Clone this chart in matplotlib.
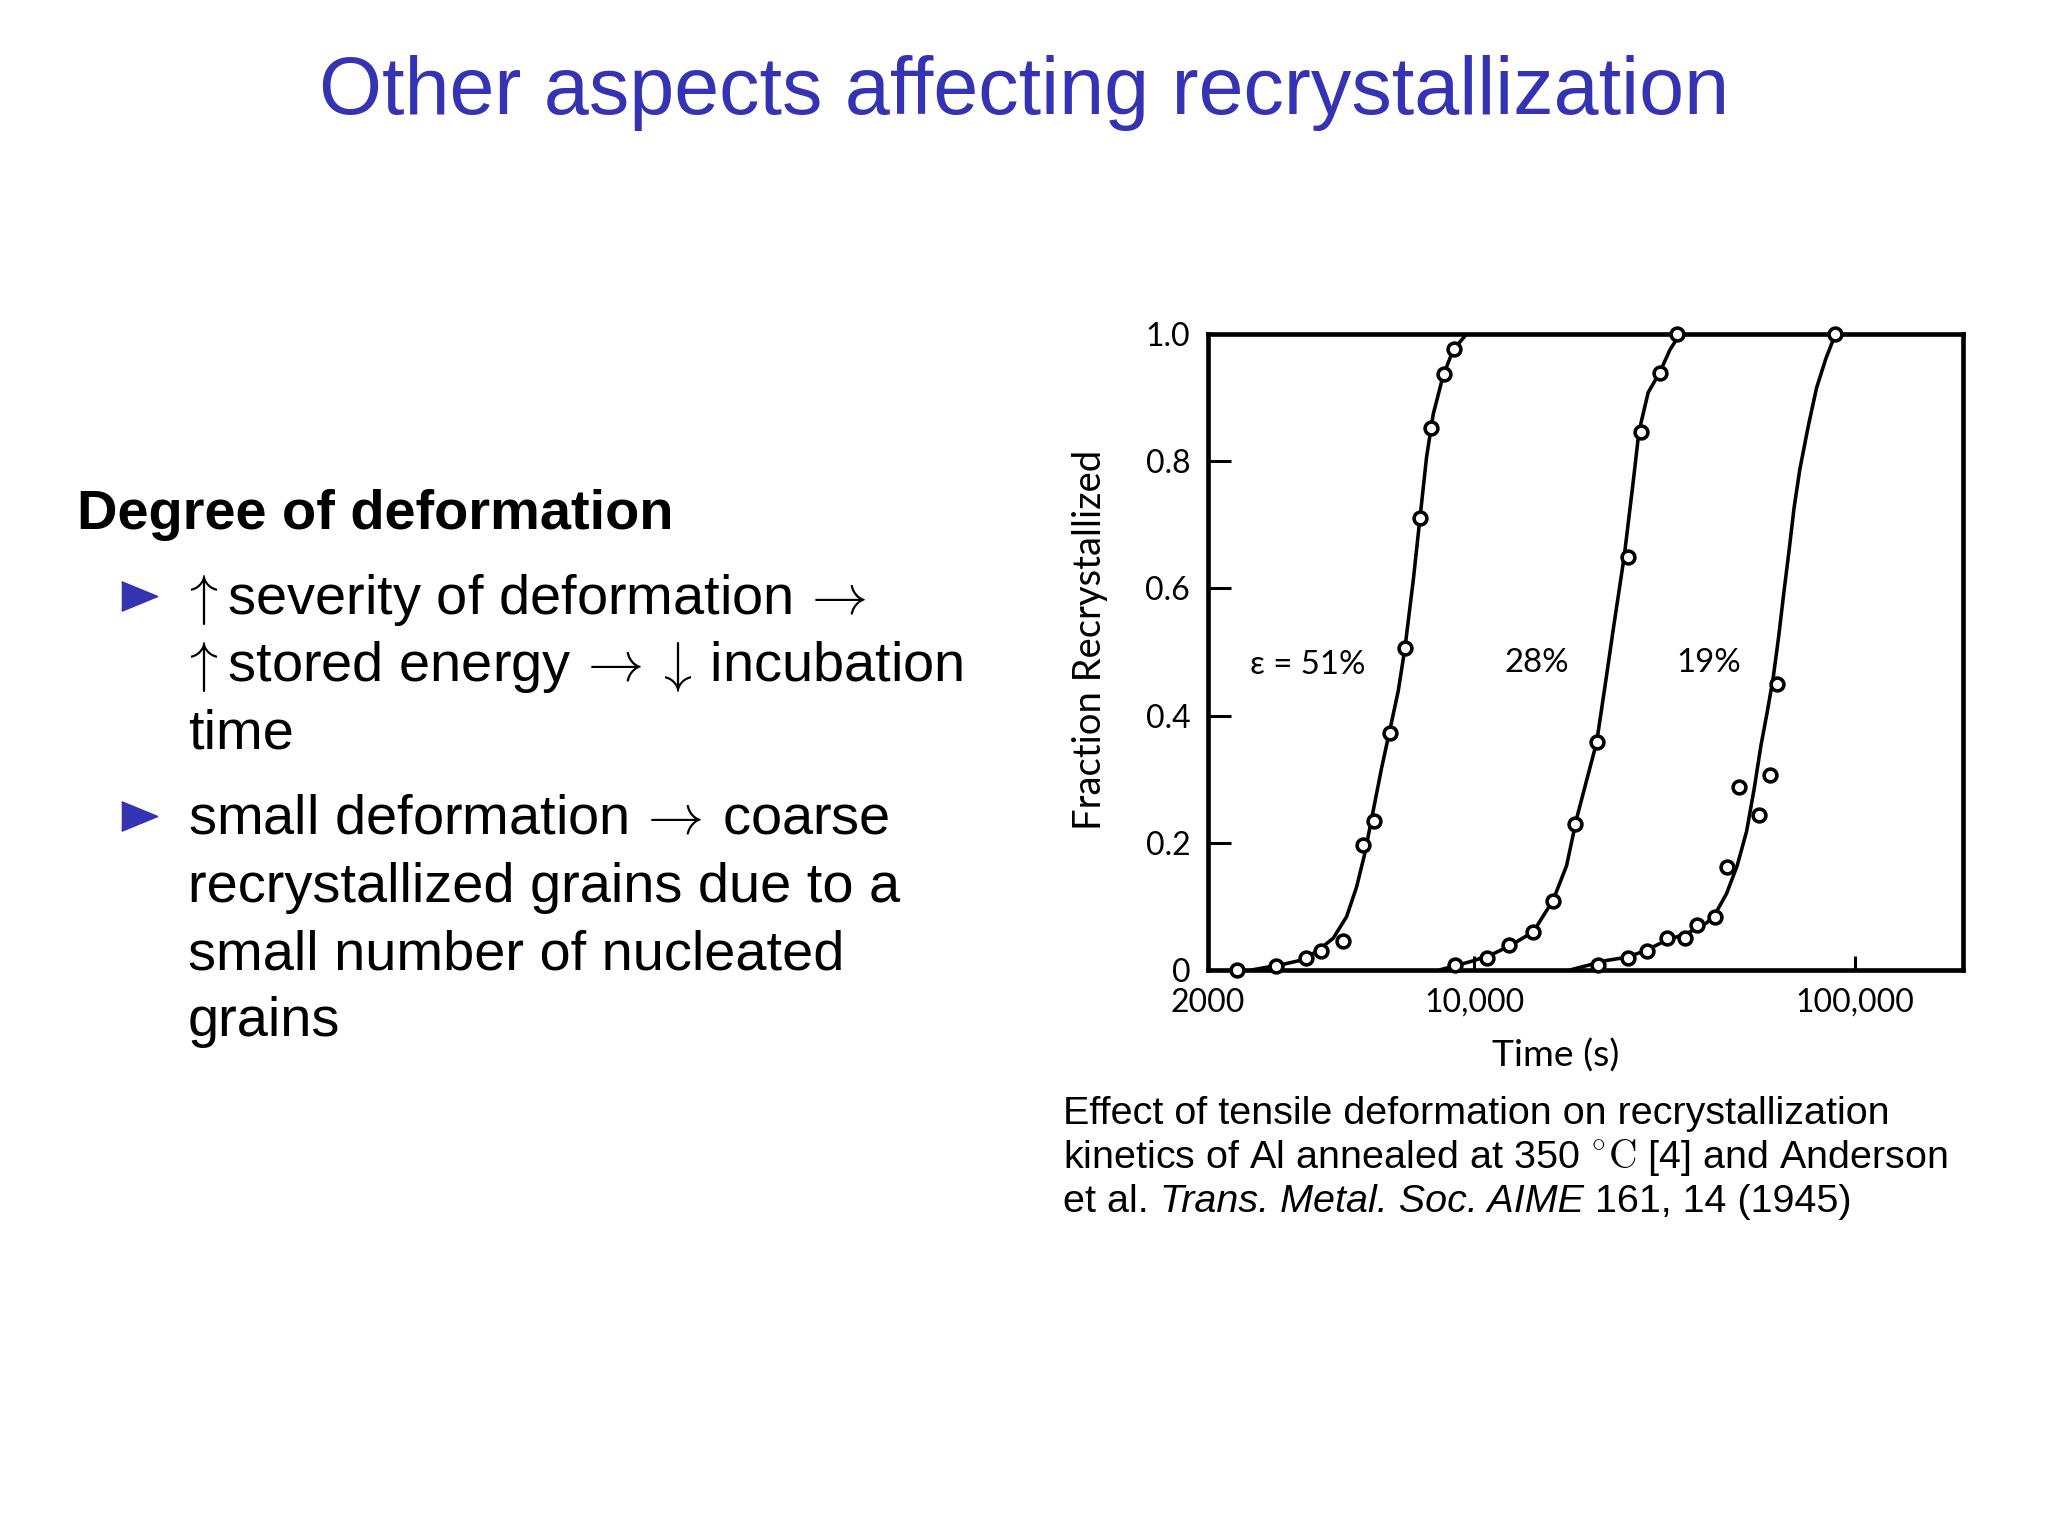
import matplotlib
matplotlib.use("Agg")
import matplotlib.pyplot as plt
from matplotlib.lines import Line2D
from matplotlib.ticker import NullLocator

plt.rcParams["mathtext.fontset"] = "cm"

# ---- slide text ----
TITLE = "Other aspects affecting recrystallization"
HEADING = "Degree of deformation"
BULLET_1 = [r"$\!\uparrow$severity of deformation$\,\rightarrow$",
            r"$\!\uparrow$stored energy$\,\rightarrow\downarrow\,$incubation",
            "time"]
BULLET_2 = [r"small deformation$\,\rightarrow\,$coarse",
            "recrystallized grains due to a",
            "small number of nucleated",
            "grains"]
CAPTION_1 = "Effect of tensile deformation on recrystallization"
CAPTION_2 = r"kinetics of Al annealed at 350 $^{\circ}\mathrm{C}$ [4] and Anderson"
CAPTION_3 = [("et al.", "normal"), ("Trans. Metal. Soc. AIME", "italic"),
             ("161, 14 (1945)", "normal")]

# ---- chart data (time in s, fraction recrystallized) ----
t51_pts = [2378, 3016, 3615, 3952, 4532, 5115, 5465, 6008, 6577, 7202, 7684, 8328, 8846]
f51_pts = [0.0, 0.007, 0.019, 0.030, 0.045, 0.196, 0.234, 0.372, 0.506, 0.710, 0.852, 0.937, 0.976]
t51_fit = [2600, 3154, 3488, 3858, 4265, 4624, 4913, 5165, 5432, 5714, 6008, 6318,
           6577, 6918, 7202, 7499, 7805, 8292, 8809, 9550]
f51_fit = [0.0, 0.009, 0.015, 0.029, 0.050, 0.084, 0.131, 0.184, 0.251, 0.318, 0.378, 0.439,
           0.506, 0.613, 0.710, 0.807, 0.874, 0.935, 0.975, 1.0]

t28_pts = [8898, 10774, 12356, 14289, 16061, 18380, 20960, 25370, 27340, 30720, 33985]
f28_pts = [0.008, 0.019, 0.039, 0.059, 0.108, 0.229, 0.358, 0.650, 0.846, 0.938, 1.0]
t28_fit = [8100, 9746, 10996, 12406, 14289, 16118, 17478, 18568, 19724, 20960, 22120,
           23220, 24760, 26140, 27060, 28620, 30720, 32640, 34680]
f28_fit = [0.0, 0.013, 0.023, 0.038, 0.060, 0.110, 0.164, 0.238, 0.298, 0.358, 0.452,
           0.539, 0.650, 0.767, 0.846, 0.908, 0.940, 0.975, 1.0]

t19_pts = [21160, 25270, 28450, 31980, 35730, 38350, 42830, 46140, 49610, 55880, 59740,
           62430, 88810]
f19_pts = [0.008, 0.019, 0.030, 0.050, 0.050, 0.070, 0.084, 0.162, 0.288, 0.244, 0.307,
           0.449, 1.0]
t19_fit = [17830, 22260, 25120, 28340, 31980, 36100, 40740, 42830, 45960, 49020, 51890,
           54330, 56560, 58760, 60930, 63050, 64990, 67100, 69160, 71590, 75270, 79200,
           83760, 88810]
f19_fit = [0.0, 0.015, 0.020, 0.031, 0.047, 0.057, 0.074, 0.087, 0.120, 0.164, 0.218,
           0.285, 0.352, 0.405, 0.459, 0.526, 0.593, 0.660, 0.727, 0.787, 0.854, 0.915,
           0.961, 1.0]

curve_labels = ["ε = 51%", "28%", "19%"]
label_t = [3660, 14620, 41360]
label_f = [0.479, 0.482, 0.482]

x_ticks = [2000, 10000, 100000]
x_tick_labels = ["2000", "10,000", "100,000"]
y_ticks = [0, 0.2, 0.4, 0.6, 0.8, 1.0]
y_tick_labels = ["0", "0.2", "0.4", "0.6", "0.8", "1.0"]

BLUE = "#3333B3"
SLIDE_FONT = ["Liberation Sans", "DejaVu Sans"]
CHART_FONT = ["Lato", "DejaVu Sans"]

W, H = 2048, 1536
fig = plt.figure(figsize=(16, 12), dpi=128)


def fx(px):
    return px / W


def fy(py):
    return 1 - py / H


# ---- title and bullet text ----
fig.text(0.5, fy(114), TITLE, ha="center", va="baseline", fontsize=45.5,
         color=BLUE, family=SLIDE_FONT)
fig.text(fx(77), fy(529), HEADING, ha="left", va="baseline", fontsize=31.5,
         weight="bold", family=SLIDE_FONT)

tri = [(-1, -0.82), (1, 0), (-1, 0.82)]
for block, y0, ty in [(BULLET_1, 614, 596), (BULLET_2, 834, 816)]:
    fig.add_artist(Line2D([fx(139)], [fy(ty)], marker=tri, markersize=20,
                          color=BLUE, linestyle="none", transform=fig.transFigure))
    for i, line in enumerate(block):
        fig.text(fx(188), fy(y0 + 67.5 * i), line, ha="left", va="baseline",
                 fontsize=31.5, family=SLIDE_FONT)

# ---- caption ----
cap_kw = dict(fontsize=22.2, family=SLIDE_FONT, va="baseline", ha="left")
fig.text(fx(1063), fy(1124), CAPTION_1, **cap_kw)
fig.text(fx(1063), fy(1168), CAPTION_2, **cap_kw)

renderer = fig.canvas.get_renderer()


def text_width(s, **kw):
    t = fig.text(0, 0, s, **kw)
    w = t.get_window_extent(renderer).width
    t.remove()
    return w


space = text_width("a a", **cap_kw) - text_width("aa", **cap_kw)
x = 1063
for piece, style in CAPTION_3:
    fig.text(fx(x), fy(1212), piece, style=style, **cap_kw)
    x += text_width(piece, style=style, **cap_kw) + space

# ---- chart ----
ax = fig.add_axes([fx(1208), fy(970), fx(1963 - 1208), (970 - 334) / H])
ax.set_xscale("log")

for t_fit, f_fit in [(t51_fit, f51_fit), (t28_fit, f28_fit), (t19_fit, f19_fit)]:
    ax.plot(t_fit, f_fit, color="black", lw=2.0, solid_capstyle="round",
            solid_joinstyle="round", zorder=2)
for t_pts, f_pts in [(t51_pts, f51_pts), (t28_pts, f28_pts), (t19_pts, f19_pts)]:
    ax.plot(t_pts, f_pts, "o", ms=7.2, mfc="white", mec="black", mew=2.0,
            clip_on=False, zorder=3)

for lab, t, f in zip(curve_labels, label_t, label_f):
    ax.text(t, f, lab, ha="center", va="center", fontsize=18.5, family=CHART_FONT)

ax.set_xlim(2000, 192000)
ax.set_ylim(0, 1.0)
ax.set_xticks(x_ticks)
ax.set_xticklabels(x_tick_labels, family=CHART_FONT, fontsize=18)
ax.xaxis.set_minor_locator(NullLocator())
ax.set_yticks(y_ticks)
ax.set_yticklabels(y_tick_labels, family=CHART_FONT, fontsize=18)
ax.tick_params(axis="x", direction="in", length=8, width=1.7, pad=10)
ax.tick_params(axis="y", direction="in", length=13, width=1.7, pad=10)
for sp in ax.spines.values():
    sp.set_linewidth(2.6)

ax.set_xlabel("Time (s)", fontsize=21, family=CHART_FONT, va="center")
ax.xaxis.set_label_coords(0.461, -0.134)
ax.set_ylabel("Fraction Recrystallized", fontsize=21.5, family=CHART_FONT, va="center")
ax.yaxis.set_label_coords(-0.156, 0.519)

fig.savefig("out.png", dpi=128)
